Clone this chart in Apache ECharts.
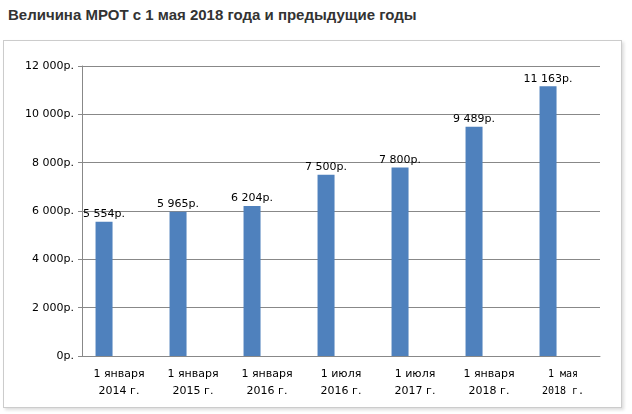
<!DOCTYPE html><html><head><meta charset="utf-8">
<script src="https://cdn.jsdelivr.net/npm/echarts@6/dist/echarts.min.js"></script>
<style>body{margin:0;background:#fff}#t{position:absolute;left:8px;top:6px;font:bold 15px Arial,"Liberation Sans",sans-serif;color:#333}
#b{position:absolute;left:3px;top:40px;width:617px;height:366px;border:1px solid #ccc;box-shadow:2px 2px 3px #ddd}
#c{position:absolute;left:0;top:0;width:632px;height:414px}</style></head><body>
<div id="t">Величина МРОТ с 1 мая 2018 года и предыдущие годы</div><div id="b"></div><div id="c"></div>
<script>
const categories=['1 января\n2014 г.','1 января\n2015 г.','1 января\n2016 г.','1 июля\n2016 г.','1 июля\n2017 г.','1 января\n2018 г.','1 мая\n2018 г.'];
const values=[5554,5965,6204,7500,7800,9489,11163];
const fmt=v=>v.toLocaleString('ru-RU').replace(/\s/g,' ')+'р.';
const ch=echarts.init(document.getElementById('c'));
ch.setOption({animation:false,
grid:{left:82,right:32,top:66,bottom:58},
xAxis:{type:'category',data:categories,axisLine:{lineStyle:{color:'#888'}},axisTick:{length:8,lineStyle:{color:'#888'}},
 axisLabel:{interval:0,color:'#000',fontSize:11,fontFamily:'DejaVu Sans',lineHeight:17,margin:10,
 formatter:(v,i)=>i===6?'{m|'+v.replace('\n','}\n{m|')+'}':v,rich:{m:{fontFamily:'DejaVu Sans Mono',fontSize:10}}}},
yAxis:{type:'value',min:0,max:12000,interval:2000,axisLine:{show:true,lineStyle:{color:'#888'}},axisTick:{show:true,length:4,lineStyle:{color:'#888'}},
 splitLine:{lineStyle:{color:'#888'}},axisLabel:{color:'#000',fontSize:11,fontFamily:'DejaVu Sans',formatter:fmt}},
series:[{type:'bar',data:values,barWidth:17,barGap:'76%',itemStyle:{color:'#4f81bd'},
 label:{show:true,position:'top',color:'#000',fontSize:11,fontFamily:'DejaVu Sans',formatter:p=>fmt(p.value),distance:2}},
 {type:'bar',data:values.map(()=>null),barWidth:17}]});
</script></body></html>
